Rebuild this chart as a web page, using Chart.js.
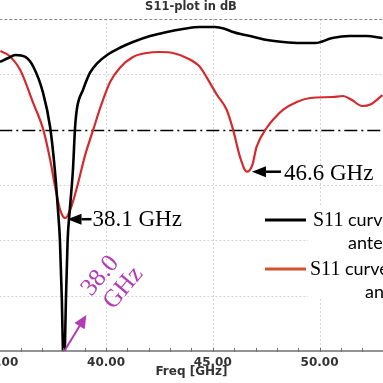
<!DOCTYPE html>
<html>
<head>
<meta charset="utf-8">
<script src="https://cdn.jsdelivr.net/npm/chart.js@4/dist/chart.umd.min.js"></script>
<style>
  html, body { margin: 0; padding: 0; background: #fff; }
  #wrap { position: relative; width: 383px; height: 383px; overflow: hidden; background: #fff; }
  #c { position: absolute; left: -40px; top: 0; }
</style>
</head>
<body>
<div id="wrap"><canvas id="c" width="463" height="383"></canvas></div>
<script>
// ---- data ----
const chartTitle = 'S11-plot in dB';
const xTitle = 'Freq [GHz]';
const xTicks = [35, 40, 45, 50];
const yGrid = [0, -5, -10, -15, -20, -25, -30];

const blackName = 'S11 curve of the proposed';
const blackName2 = 'antenna';
const blackFreq = [35.03,35.42,35.75,36.22,36.6,37.05,37.38,37.6,37.75,37.84,37.93,37.98,38.02,38.07,38.12,38.2,38.3,38.45,38.55,38.65,38.92,39.1,39.25,39.58,40.05,40.65,41.26,42.06,42.85,43.6,44.4,45.1,45.55,45.95,46.35,46.75,47.55,48.3,49.1,49.8,50.6,51.4,52.2,52.95];
const blackDb = [-3.88,-3.52,-3.25,-3.43,-4.34,-6.68,-9.76,-13.6,-17.3,-20.0,-25.4,-30.0,-36,-30.0,-25.4,-20.0,-17.3,-13.6,-9.76,-7.95,-6.4,-5.5,-4.85,-4.0,-3.25,-2.6,-2.08,-1.54,-1.17,-0.9,-0.72,-0.72,-0.88,-1.17,-1.38,-1.54,-1.9,-2.08,-2.17,-2.17,-1.72,-1.54,-1.54,-1.72];

const redName = 'S11 curve of the';
const redName2 = 'antenna';
const redFreq = [35.05,35.42,35.98,36.59,37.06,37.38,37.62,37.85,38.09,38.32,38.64,39.02,39.4,39.75,40.19,40.65,41.26,41.9,42.5,43.13,43.78,44.4,44.72,45.2,45.65,45.95,46.28,46.6,46.85,47.05,47.52,47.9,48.3,48.93,49.56,50.6,51.1,51.5,52.0,52.4,52.95];
const redDb = [-2.9,-3.25,-4.6,-7.6,-10.0,-12.7,-15.2,-17.25,-18.0,-17.25,-15.2,-12.3,-10.0,-7.9,-5.7,-4.4,-3.43,-3.07,-2.98,-3.07,-3.52,-4.34,-5.3,-6.87,-8.2,-10.0,-12.5,-13.8,-13.2,-11.56,-9.85,-8.94,-8.2,-7.5,-7.14,-7.05,-6.96,-7.3,-7.86,-7.7,-6.87];

const marks = [
  { f: 38.1, db: -18.0, label: '38.1 GHz' },
  { f: 46.6, db: -13.8, label: '46.6 GHz' }
];
const blackMark = { f: 38.0, db: -30, label1: '38.0', label2: 'GHz' };
const refLevel = -10;

// ---- drawing ----
const OFF = 40; // canvas shifted left by 40px
const zip = (a, b) => a.map((v, i) => ({ x: v, y: b[i] }));

function arrow(ctx, x0, y0, x1, y1, len, half, color, lw) {
  const a = Math.atan2(y1 - y0, x1 - x0);
  const bx = x1 - len * Math.cos(a), by = y1 - len * Math.sin(a);
  ctx.save();
  ctx.strokeStyle = color; ctx.fillStyle = color; ctx.lineWidth = lw; ctx.setLineDash([]);
  ctx.beginPath(); ctx.moveTo(x0, y0); ctx.lineTo(bx, by); ctx.stroke();
  ctx.beginPath();
  ctx.moveTo(x1, y1);
  ctx.lineTo(bx + half * Math.sin(a), by - half * Math.cos(a));
  ctx.lineTo(bx - half * Math.sin(a), by + half * Math.cos(a));
  ctx.closePath(); ctx.fill();
  ctx.restore();
}

const deco = {
  id: 'deco',
  beforeDatasetsDraw(chart) {
    const { ctx, chartArea: a, scales: { x, y } } = chart;
    ctx.save();
    // dotted grid
    ctx.strokeStyle = '#d2d2d2'; ctx.lineWidth = 1; ctx.setLineDash([2, 2]);
    xTicks.forEach(v => {
      const px = Math.round(x.getPixelForValue(v)) + 0.5;
      ctx.beginPath(); ctx.moveTo(px, a.top); ctx.lineTo(px, a.bottom); ctx.stroke();
    });
    yGrid.forEach(v => {
      if (v === 0 || v === refLevel || v === -30) return;
      const py = Math.round(y.getPixelForValue(v)) + 0.5;
      ctx.beginPath(); ctx.moveTo(a.left, py); ctx.lineTo(a.right, py); ctx.stroke();
    });
    // top dashed border
    ctx.strokeStyle = '#8a8a8a'; ctx.setLineDash([3, 2]);
    const pt = Math.round(y.getPixelForValue(0)) + 0.5;
    ctx.beginPath(); ctx.moveTo(a.left, pt); ctx.lineTo(a.right, pt); ctx.stroke();
    // legend box
    ctx.setLineDash([]);
    ctx.fillStyle = '#fff';
    ctx.fillRect(308 + OFF, 205, 120, 93);
    // -10 dB dash-dot
    ctx.strokeStyle = '#000'; ctx.lineWidth = 1.4; ctx.setLineDash([13, 4, 2, 4]);
    const pr = Math.round(y.getPixelForValue(refLevel)) + 0.5;
    ctx.beginPath(); ctx.moveTo(a.left, pr); ctx.lineTo(a.right, pr); ctx.stroke();
    ctx.restore();
  },
  afterDatasetsDraw(chart) {
    const { ctx, chartArea: a, scales: { x, y } } = chart;
    ctx.save();
    // axis line + minor ticks
    ctx.strokeStyle = '#707070'; ctx.lineWidth = 1.5; ctx.setLineDash([]);
    ctx.beginPath(); ctx.moveTo(a.left, a.bottom); ctx.lineTo(a.right, a.bottom); ctx.stroke();
    ctx.lineWidth = 1;
    for (let f = 36; f <= 52; f++) {
      const px = Math.round(x.getPixelForValue(f)) + 0.5;
      ctx.beginPath(); ctx.moveTo(px, a.bottom - 3); ctx.lineTo(px, a.bottom + 1); ctx.stroke();
    }
    // legend
    ctx.lineWidth = 3;
    ctx.strokeStyle = '#000';
    ctx.beginPath(); ctx.moveTo(265 + OFF, 220); ctx.lineTo(306 + OFF, 220); ctx.stroke();
    ctx.strokeStyle = '#d0552e';
    ctx.beginPath(); ctx.moveTo(265 + OFF, 269); ctx.lineTo(306 + OFF, 269); ctx.stroke();
    ctx.fillStyle = '#000';
    ctx.textBaseline = 'alphabetic'; ctx.textAlign = 'left';
    const legendLine = (name, x0, yb) => {
      const s = name.slice(0, 3), rest = name.slice(3);
      ctx.font = '20px "Liberation Serif"';
      ctx.fillText(s, x0, yb);
      const w = ctx.measureText(s).width;
      ctx.font = '18px Lato';
      ctx.fillText(rest, x0 + w, yb);
    };
    legendLine(blackName, 313 + OFF, 226);
    ctx.font = '18px Lato';
    ctx.fillText(blackName2, 348 + OFF, 249);
    legendLine(redName, 310 + OFF, 275);
    ctx.font = '18px Lato';
    ctx.fillText(redName2, 365 + OFF, 298);

    // resonance annotations
    ctx.font = '23px "Liberation Serif"';
    ctx.fillStyle = '#000';
    const m1 = marks[0];
    const t1x = x.getPixelForValue(m1.f) + 2, t1y = y.getPixelForValue(m1.db) + 1;
    arrow(ctx, t1x + 24, t1y, t1x, t1y, 14, 5.5, '#000', 2.5);
    ctx.fillText(m1.label, t1x + 25, t1y + 7);
    const m2 = marks[1];
    const t2x = x.getPixelForValue(m2.f) + 5, t2y = y.getPixelForValue(m2.db);
    arrow(ctx, t2x + 29, t2y, t2x, t2y, 14, 5.5, '#000', 2.5);
    ctx.fillText(m2.label, t2x + 32, t2y + 8);

    // magenta note
    const mx = x.getPixelForValue(blackMark.f), my = y.getPixelForValue(blackMark.db);
    const mag = '#b23ab4';
    arrow(ctx, mx + 1, my, mx + 23, my - 36, 13, 6, mag, 2);
    ctx.fillStyle = mag;
    ctx.font = '25px "Liberation Serif"';
    ctx.textAlign = 'center'; ctx.textBaseline = 'middle';
    const ang = -50 * Math.PI / 180;
    [[blackMark.label1, mx + 37, my - 75], [blackMark.label2, mx + 60, my - 63]].forEach(([t, cx, cy]) => {
      ctx.save(); ctx.translate(cx, cy); ctx.rotate(ang); ctx.fillText(t, 0, 0); ctx.restore();
    });
    ctx.restore();
  },
  afterDraw(chart) {
    const ctx = chart.ctx;
    ctx.save();
    ctx.font = 'bold 11.5px "DejaVu Sans"';
    ctx.fillStyle = '#333';
    ctx.textAlign = 'center'; ctx.textBaseline = 'middle';
    ctx.fillText(chartTitle, 191 + OFF, 7);
    ctx.restore();
  }
};

new Chart(document.getElementById('c'), {
  type: 'line',
  data: {
    datasets: [
      { label: blackName, data: zip(blackFreq, blackDb), borderColor: '#000', borderWidth: 2.6,
        pointRadius: 0, cubicInterpolationMode: 'monotone', fill: false },
      { label: redName, data: zip(redFreq, redDb), borderColor: '#d42a2e', borderWidth: 2.2,
        pointRadius: 0, cubicInterpolationMode: 'monotone', fill: false }
    ]
  },
  options: {
    responsive: false,
    animation: false,
    devicePixelRatio: 1,
    layout: { padding: { left: 39.3, right: 39.4, top: 19, bottom: 0 } },
    plugins: { legend: { display: false }, title: { display: false }, tooltip: { enabled: false } },
    scales: {
      x: {
        type: 'linear', min: 35, max: 53,
        grid: { display: false, drawTicks: false },
        border: { display: false },
        ticks: {
          stepSize: 5, includeBounds: false, autoSkip: false, maxRotation: 0, padding: 5,
          color: '#333', font: { family: 'DejaVu Sans', weight: 'bold', size: 12 },
          callback: v => Number(v).toFixed(2)
        },
        title: { display: true, text: xTitle, color: '#333', padding: { top: 0, bottom: 4 },
          font: { family: 'DejaVu Sans', weight: 'bold', size: 12 } },
        afterFit(s) { s.height = 32; }
      },
      y: {
        type: 'linear', min: -30, max: 0,
        grid: { display: false, drawTicks: false },
        border: { display: false },
        ticks: { display: false },
        afterFit(s) { s.width = 0; }
      }
    }
  },
  plugins: [deco]
});
</script>
</body>
</html>
